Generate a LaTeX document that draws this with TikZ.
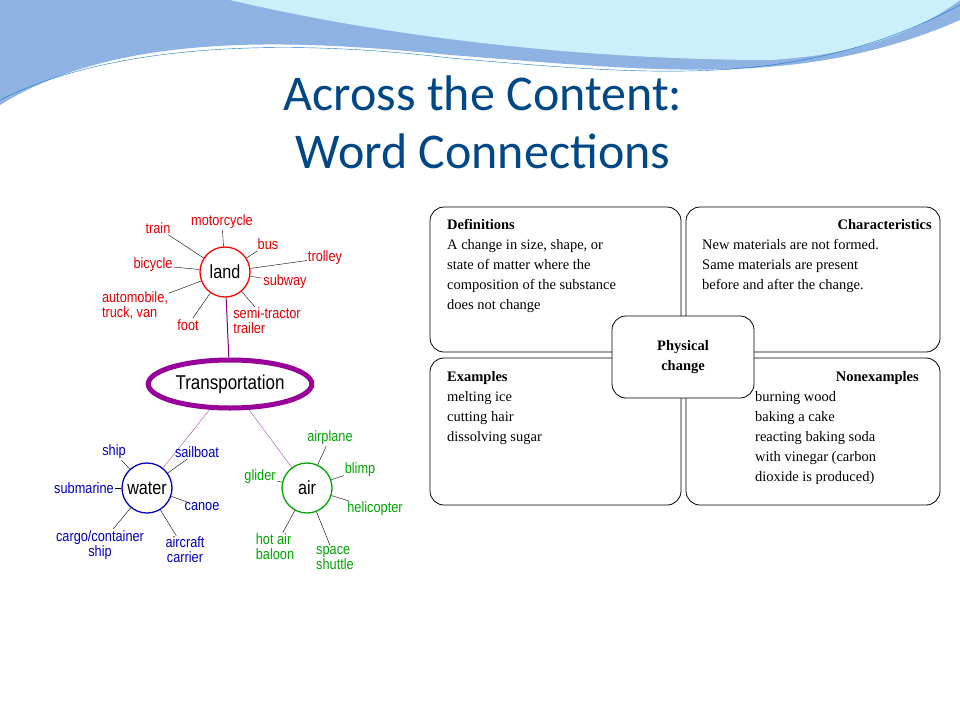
\documentclass[tikz,border=0pt]{standalone}
\usepackage{fontspec}
\usetikzlibrary{shapes.geometric}
\setmainfont{Liberation Serif}
\newfontfamily\titlefont{Carlito}
\newfontfamily\mapfont{Liberation Sans}[FakeStretch=0.85]
\tikzset{
  spoke/.style={thin},
  lnd/.style={text=red!90!black,font=\mapfont\fontsize{15}{15}\selectfont,align=left,inner sep=1pt},
  wtr/.style={text=blue!75!black,font=\mapfont\fontsize{15}{15}\selectfont,align=left,inner sep=1pt},
  ar/.style={text=green!65!black,font=\mapfont\fontsize{15}{15}\selectfont,align=left,inner sep=1pt},
  hub/.style={circle,minimum size=50pt,line width=1.3pt,fill=white,font=\mapfont\fontsize{19}{19}\selectfont},
  cell/.style={draw,rounded corners=14pt,line width=0.8pt},
  txt/.style={font=\fontsize{14.5}{20}\selectfont,align=left,inner sep=0pt}
}
\begin{document}
\begin{tikzpicture}[x=1pt,y=-1pt]
\useasboundingbox (0,0) rectangle (960,720);
\fill[white] (0,0) rectangle (960,720);
% waves at the top
\fill[cyan!55!blue!45] (0,0) -- (960,0) -- (960,20) .. controls (800,90) and (650,70) .. (450,55)
  .. controls (300,40) and (120,30) .. (0,105) -- cycle;
\fill[cyan!20] (230,0) .. controls (400,40) and (600,60) .. (770,60) .. controls (860,55) and (920,30) .. (960,0) -- cycle;
\draw[cyan!60!blue,thin] (0,100) .. controls (120,40) and (300,40) .. (450,58) .. controls (650,75) and (800,90) .. (960,5);
\node[font=\titlefont\fontsize{50}{58}\selectfont,text=teal!70!blue!80!black,align=center] (title) at (483,122) {Across the Content:\\Word Connections};

% mind map
\fill[white] (40,200) rectangle (420,583);
\node[hub,draw=red] (land) at (225,272) {land};
\node[ellipse,draw=violet!80!magenta,line width=5pt,minimum width=160pt,minimum height=48pt,font=\mapfont\fontsize{20}{20}\selectfont] (trans) at (230,384) {Transportation};
\node[hub,draw=blue!75!black] (water) at (147,488) {water};
\node[hub,draw=green!65!black] (air) at (307,488) {air};
\draw[violet,line width=1pt] (land) -- (trans);
\draw[violet!70] (trans) -- (water);
\draw[violet!70] (trans) -- (air);

\node[lnd] (train) at (158,228) {train};
\node[lnd] (moto) at (222,222) {motorcycle};
\node[lnd] (bus) at (268,244) {bus};
\node[lnd] (trolley) at (325,258) {trolley};
\node[lnd] (bicycle) at (153,265) {bicycle};
\node[lnd] (subway) at (285,282) {subway};
\node[lnd] (auto) at (135,306) {automobile,\\truck, van};
\node[lnd] (foot) at (188,325) {foot};
\node[lnd] (semi) at (267,321) {semi-tractor\\trailer};
\foreach \n in {train,moto,bus,trolley,bicycle,subway,auto,foot,semi}
  \draw[spoke] (land) -- (\n);

\node[wtr] (ship) at (114,452) {ship};
\node[wtr] (sail) at (197,452) {sailboat};
\node[wtr] (sub) at (84,488) {submarine};
\node[wtr] (canoe) at (202,507) {canoe};
\node[wtr,align=center] (cargo) at (100,545) {cargo/container\\ship};
\node[wtr,align=center] (carrier) at (185,550) {aircraft\\carrier};
\foreach \n in {ship,sail,sub,canoe,cargo,carrier}
  \draw[spoke] (water) -- (\n);

\node[ar] (plane) at (330,438) {airplane};
\node[ar] (blimp) at (360,470) {blimp};
\node[ar] (glider) at (260,477) {glider};
\node[ar] (heli) at (375,509) {helicopter};
\node[ar] (balloon) at (275,547) {hot air\\baloon};
\node[ar] (shuttle) at (335,558) {space\\shuttle};
\foreach \n in {plane,blimp,glider,heli,balloon,shuttle}
  \draw[spoke] (air) -- (\n);

% physical change chart
\draw[cell] (430,207) rectangle (681,352);
\draw[cell] (686,207) rectangle (940,352);
\draw[cell] (430,358) rectangle (681,505);
\draw[cell] (686,358) rectangle (940,505);
\node[cell,fill=white,minimum width=142pt,minimum height=82pt,font=\bfseries\fontsize{14.5}{20}\selectfont,align=center] (phys) at (683,357) {Physical\\change};
\node[txt,anchor=north west] (defs) at (447,219) {\textbf{Definitions}\\A change in size, shape, or\\state of matter where the\\composition of the substance\\does not change};
\node[txt,anchor=north east,font=\bfseries\fontsize{14.5}{20}\selectfont] (charh) at (932,219) {Characteristics};
\node[txt,anchor=north west] (chars) at (702,239) {New materials are not formed.\\Same materials are present\\before and after the change.};
\node[txt,anchor=north west] (exs) at (447,371) {\textbf{Examples}\\melting ice\\cutting hair\\dissolving sugar};
\node[txt,anchor=north east,font=\bfseries\fontsize{14.5}{20}\selectfont] (nonh) at (919,371) {Nonexamples};
\node[txt,anchor=north west] (nons) at (755,391) {burning wood\\baking a cake\\reacting baking soda\\with vinegar (carbon\\dioxide is produced)};
\end{tikzpicture}
\end{document}
